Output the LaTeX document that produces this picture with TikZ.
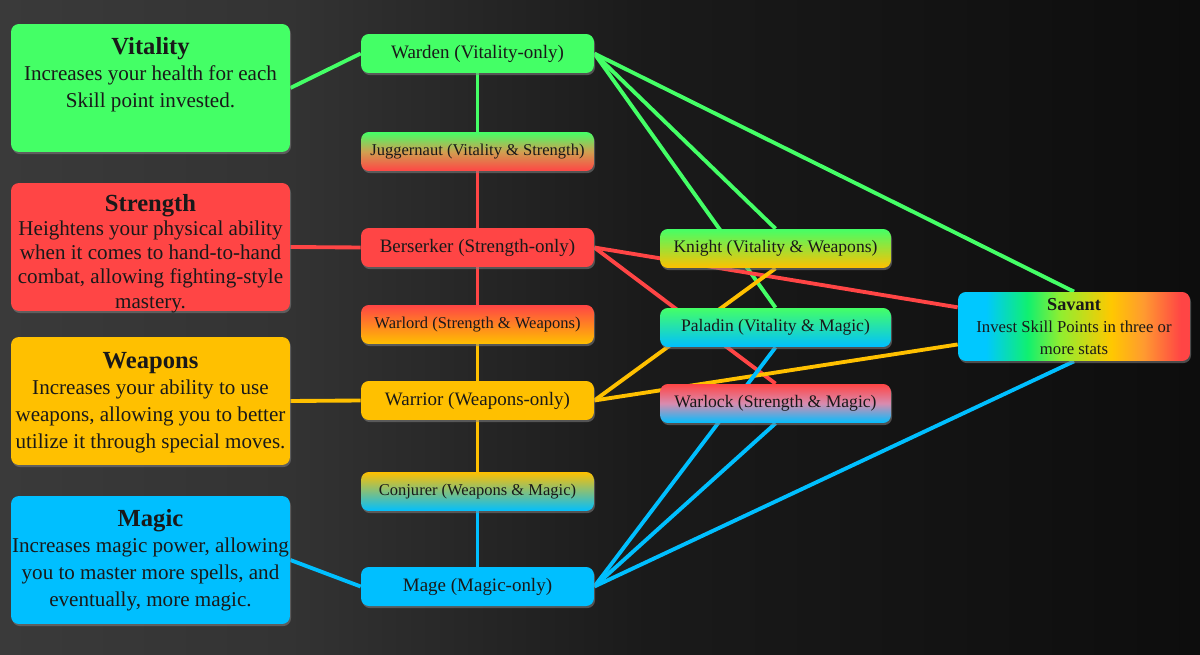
\documentclass[tikz,border=0pt]{standalone}
\usepackage{fontspec}
\setmainfont{Liberation Serif}
\usetikzlibrary{positioning,shadows}

\definecolor{vitgreen}{HTML}{44FF66}
\definecolor{strred}{HTML}{FF4545}
\definecolor{weayellow}{HTML}{FFC000}
\definecolor{magblue}{HTML}{00BFFF}
\definecolor{savblue}{HTML}{00C8FF}
\definecolor{savgreen}{HTML}{10F070}
\definecolor{savlime}{HTML}{90EE30}
\definecolor{savyellow}{HTML}{FFC800}
\definecolor{savorange}{HTML}{FF9A30}
\definecolor{jugmid}{HTML}{D0A050}
\definecolor{wlkmid}{HTML}{D88CB0}
\definecolor{bgleft}{HTML}{3A3A3A}
\definecolor{bgside}{HTML}{333333}
\definecolor{bgmid}{HTML}{1A1A1A}
\definecolor{bgright}{HTML}{0D0D0D}

\pgfdeclarehorizontalshading{savantshade}{100bp}{color(0bp)=(savblue); color(25bp)=(savblue); color(31bp)=(savblue); color(40bp)=(savgreen); color(47bp)=(savlime); color(58bp)=(savyellow); color(65bp)=(savorange); color(73bp)=(strred); color(100bp)=(strred)}
\pgfdeclarehorizontalshading{backshade}{100bp}{color(0bp)=(bgleft); color(25bp)=(bgleft); color(37bp)=(bgside); color(52bp)=(bgmid); color(75bp)=(bgright); color(100bp)=(bgright)}

\pgfdeclarelayer{back}
\pgfdeclarelayer{wires}
\pgfsetlayers{back,wires,main}

\newcommand{\stathead}[1]{{\fontsize{14}{15.3}\selectfont\bfseries #1}}

\begin{document}
\begin{tikzpicture}[
  x=0.02cm, y=-0.02cm,
  every node/.style={text=black!90},
  boxshadow/.style={drop shadow={shadow xshift=0.6pt,shadow yshift=-1.2pt,opacity=0.55}},
  statbox/.style={rounded corners=4.5pt,minimum width=5.58cm,minimum height=2.56cm,boxshadow},
  stattxt/.style={text width=5.56cm,align=flush center,inner sep=0pt,font=\fontsize{12}{15.3}\selectfont},
  pathbox/.style={rounded corners=4.5pt,minimum width=4.66cm,minimum height=0.78cm,inner sep=0pt,
    font=\fontsize{10.8}{13}\selectfont,boxshadow},
  mixbox/.style={pathbox,font=\fontsize{9.4}{11}\selectfont},
  duobox/.style={pathbox,minimum width=4.62cm,font=\fontsize{10}{12}\selectfont},
  wire/.style={line width=2.2pt}
]
  \useasboundingbox (0,0) rectangle (1200,655);
  \begin{pgfonlayer}{back}
    \shade[shading=backshade] (0,0) rectangle (1200,655);
  \end{pgfonlayer}

  % stats
  \node[statbox,fill=vitgreen] (vit) at (150.5,88) {};
  \node[stattxt,below=0.26cm of vit.north] (vittxt)
    {\stathead{Vitality}\\Increases your health for each\\Skill point invested.};
  \node[statbox,fill=strred] (str) at (150.5,247) {};
  \node[stattxt,below=0.22cm of str.north,font=\fontsize{12}{13.8}\selectfont] (strtxt)
    {\stathead{Strength}\\Heightens your physical ability\\when it comes to hand-to-hand\\combat, allowing fighting-style\\mastery.};
  \node[statbox,fill=weayellow] (wea) at (150.5,401) {};
  \node[stattxt,below=0.30cm of wea.north] (weatxt)
    {\stathead{Weapons}\\Increases your ability to use\\weapons, allowing you to better\\utilize it through special moves.};
  \node[statbox,fill=magblue] (mag) at (150.5,560) {};
  \node[stattxt,below=0.26cm of mag.north] (magtxt)
    {\stathead{Magic}\\Increases magic power, allowing\\you to master more spells, and\\eventually, more magic.};

  % classes
  \node[pathbox,fill=vitgreen] (ward) at (477.5,53.5) {Warden (Vitality-only)};
  \node[mixbox,top color=vitgreen,bottom color=strred,middle color=jugmid] (jug) at (477.5,151.5) {Juggernaut (Vitality \& Strength)};
  \node[pathbox,fill=strred] (bers) at (477.5,247.5) {Berserker (Strength-only)};
  \node[mixbox,top color=strred,bottom color=weayellow] (wlord) at (477.5,324.5) {Warlord (Strength \& Weapons)};
  \node[pathbox,fill=weayellow] (warr) at (477.5,400.5) {Warrior (Weapons-only)};
  \node[mixbox,top color=weayellow,bottom color=magblue] (conj) at (477.5,491.5) {Conjurer (Weapons \& Magic)};
  \node[pathbox,fill=magblue] (mage) at (477.5,586.5) {Mage (Magic-only)};

  \node[duobox,top color=vitgreen,bottom color=weayellow] (kni) at (775.5,248.5) {Knight (Vitality \& Weapons)};
  \node[duobox,top color=vitgreen,bottom color=magblue] (pal) at (775.5,327.5) {Paladin (Vitality \& Magic)};
  \node[duobox,top color=strred,bottom color=magblue,middle color=wlkmid] (wlk) at (775.5,403.5) {Warlock (Strength \& Magic)};

  \node[rounded corners=4.5pt,shading=savantshade,minimum width=4.64cm,minimum height=1.38cm,
    align=center,font=\fontsize{9.5}{12.5}\selectfont,boxshadow] (sav) at (1074,326.5)
    {{\fontsize{10.4}{12.5}\selectfont\bfseries Savant}\\Invest Skill Points in three or\\more stats};

  % links
  \begin{pgfonlayer}{wires}
    \draw[wire,vitgreen] (vit.east) -- (ward.west);
    \draw[wire,strred] (str.east) -- (bers.west);
    \draw[wire,weayellow] (wea.east) -- (warr.west);
    \draw[wire,magblue] (mag.east) -- (mage.west);
    \draw[wire,vitgreen] (ward) -- (jug);
    \draw[wire,strred] (jug) -- (bers);
    \draw[wire,strred] (bers) -- (wlord);
    \draw[wire,weayellow] (wlord) -- (warr);
    \draw[wire,weayellow] (warr) -- (conj);
    \draw[wire,magblue] (conj) -- (mage);
    \draw[wire,vitgreen] (ward.east) -- (kni.north);
    \draw[wire,vitgreen] (ward.east) -- (pal.north);
    \draw[wire,vitgreen] (ward.east) -- (sav.north);
    \draw[wire,strred] (bers.east) -- (sav);
    \draw[wire,strred] (bers.east) -- (wlk.north);
    \draw[wire,weayellow] (warr.east) -- (kni.south);
    \draw[wire,weayellow] (warr.east) -- (sav);
    \draw[wire,magblue] (mage.east) -- (pal.south);
    \draw[wire,magblue] (mage.east) -- (wlk.south);
    \draw[wire,magblue] (mage.east) -- (sav.south);
  \end{pgfonlayer}
\end{tikzpicture}
\end{document}
